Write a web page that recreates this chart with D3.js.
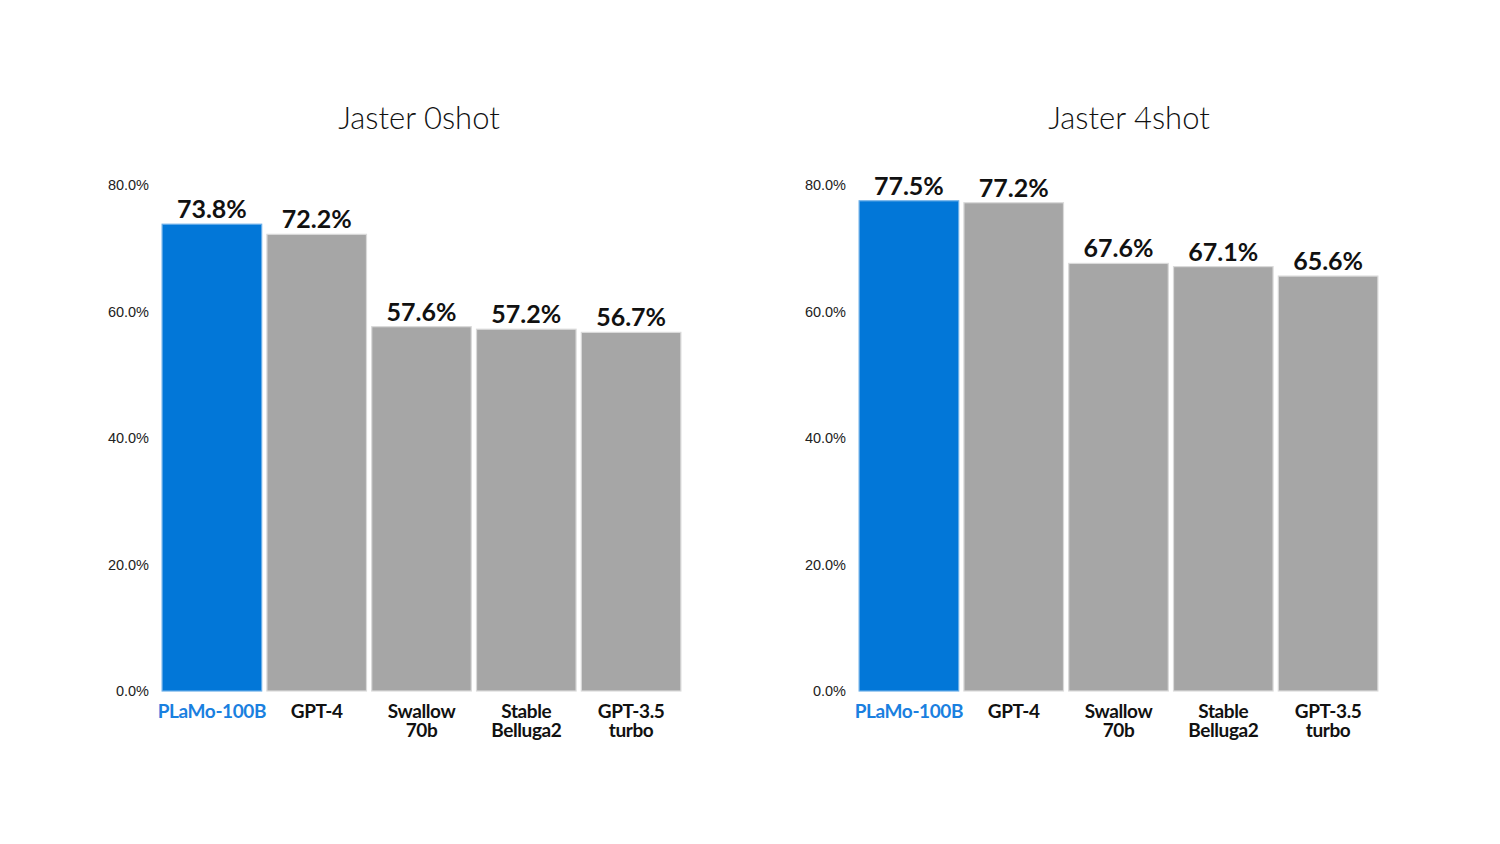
<!DOCTYPE html>
<html><head><meta charset="utf-8">
<script src="https://cdn.jsdelivr.net/npm/d3@7"></script>
<style>
html,body{margin:0;padding:0;background:#fff;}
svg{display:block;}
</style></head>
<body>
<svg id="chart" width="1500" height="844"></svg>
<script>
const categories = ["PLaMo-100B", "GPT-4", "Swallow 70b", "Stable Belluga2", "GPT-3.5 turbo"];
const categoryLines = [["PLaMo-100B"], ["GPT-4"], ["Swallow", "70b"], ["Stable", "Belluga2"], ["GPT-3.5", "turbo"]];
const zeroShot = [73.8, 72.2, 57.6, 57.2, 56.7];
const fourShot = [77.5, 77.2, 67.6, 67.1, 65.6];
const titles = ["Jaster 0shot", "Jaster 4shot"];
const yTicks = [0, 20, 40, 60, 80];

const svg = d3.select("#chart");
const panels = [
  {title: titles[0], values: zeroShot, x0: 159.5, x1: 683.5, axisX: 149, titleX: 419},
  {title: titles[1], values: fourShot, x0: 856.5, x1: 1380.5, axisX: 846, titleX: 1129}
];
const y = d3.scaleLinear().domain([0, 80]).range([691, 185]);

panels.forEach(p => {
  const g = svg.append("g");
  const x = d3.scaleBand().domain(categories).range([p.x0, p.x1]).paddingInner(0.05).paddingOuter(0.025);

  g.append("text").attr("x", p.titleX).attr("y", 129).attr("text-anchor", "middle")
    .attr("font-family", "Lato, 'Noto Sans', sans-serif").attr("font-weight", 300)
    .attr("font-size", 31).attr("fill", "#111").text(p.title);

  const axis = d3.axisLeft(y).tickValues(yTicks).tickSize(0).tickPadding(0)
    .tickFormat(d => d.toFixed(1) + "%");
  const ag = g.append("g").attr("transform", `translate(${p.axisX},0)`).call(axis);
  ag.select(".domain").remove();
  ag.selectAll("text").attr("font-family", "'Liberation Sans', Arial, sans-serif")
    .attr("font-size", 14.5).attr("fill", "#222");

  g.selectAll("rect.bar").data(p.values).join("rect").attr("class", "bar")
    .attr("x", (d, i) => x(categories[i]))
    .attr("y", d => y(d))
    .attr("width", x.bandwidth())
    .attr("height", d => y(0) - y(d))
    .attr("fill", (d, i) => i === 0 ? "#0277d8" : "#a6a6a6")
    .attr("stroke", (d, i) => i === 0 ? "#6aaee8" : "#dadada")
    .attr("stroke-width", 1.2);

  g.selectAll("text.val").data(p.values).join("text").attr("class", "val")
    .attr("x", (d, i) => x(categories[i]) + x.bandwidth() / 2)
    .attr("y", d => y(d) - 6)
    .attr("text-anchor", "middle")
    .attr("font-family", "Lato, 'Noto Sans', sans-serif").attr("font-weight", 700)
    .attr("font-size", 25).attr("fill", "#111")
    .text(d => d.toFixed(1) + "%");

  const cl = g.selectAll("text.cat").data(categories).join("text").attr("class", "cat")
    .attr("x", d => x(d) + x.bandwidth() / 2)
    .attr("y", 718)
    .attr("text-anchor", "middle")
    .attr("font-family", "Lato, 'Noto Sans', sans-serif").attr("font-weight", 700)
    .attr("font-size", 19).attr("letter-spacing", -0.4)
    .attr("fill", (d, i) => i === 0 ? "#1a80e0" : "#111");
  cl.each(function(d, i) {
    const t = d3.select(this);
    categoryLines[i].forEach((line, j) => {
      t.append("tspan").attr("x", x(d) + x.bandwidth() / 2).attr("dy", j === 0 ? 0 : 19).text(line);
    });
  });
});
</script>
</body></html>
